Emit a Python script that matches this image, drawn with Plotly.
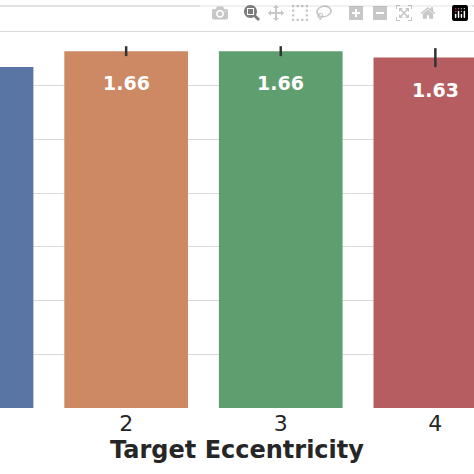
import plotly.graph_objects as go

categories = [1, 2, 3, 4]
values = [1.586, 1.66, 1.66, 1.63]
errors = [0.02, 0.023, 0.023, 0.044]
labels = ["1.59", "1.66", "1.66", "1.63"]
colors = ["#5875A4", "#CC8963", "#5F9E6E", "#B55D60"]

fig = go.Figure(go.Bar(
    x=categories, y=values, width=0.8, marker_color=colors, marker_line_width=0,
    error_y=dict(type="data", array=errors, color="#333333", thickness=2.5, width=0),
))
for c, v, l in zip(categories, values, labels):
    fig.add_annotation(x=c, y=v - 0.15, text=f"<b>{l}</b>", showarrow=False,
                       font=dict(size=19, color="white", family="DejaVu Sans"))
fig.add_shape(type="line", xref="paper", x0=0, x1=1, y0=1.87, y1=1.87,
              line=dict(color="#d9d9d9", width=1.5), layer="below")
fig.update_layout(
    width=474, height=474, margin=dict(l=0, r=0, t=0, b=66),
    plot_bgcolor="white", paper_bgcolor="white", showlegend=False,
    font=dict(family="DejaVu Sans", color="#262626"),
    xaxis=dict(range=[1.184, 4.25], tickvals=[2, 3, 4], ticktext=["2", "3", "4"],
               tickfont=dict(size=22), showgrid=False, zeroline=False,
               title=dict(text="<b>Target Eccentricity</b>", font=dict(size=24), standoff=6)),
    yaxis=dict(range=[0, 1.898], dtick=0.25, showticklabels=False, gridcolor="#d9d9d9",
               gridwidth=1, zeroline=False),
)
fig.write_html("out.html", post_script="document.body.style.margin='0';document.body.style.overflow='hidden';")
